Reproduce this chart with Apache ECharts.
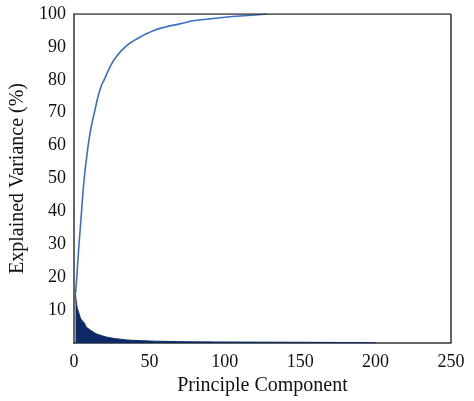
<!DOCTYPE html><html><head><meta charset="utf-8"><script src="https://cdn.jsdelivr.net/npm/echarts@6/dist/echarts.min.js"></script></head><body style="margin:0;background:#fff"><div id="c" style="width:474px;height:401px"></div><script>
var cumX=[1,2,3,4,5,6,7,8,10,12,14,16,18,20,24,28,34,40,46,53,60,70,80,90,100,110,120,128];
var cumY=[15,21,28,34,40,46,51,55,62,67,71,75,78,80,84,87,90,92,93.5,95,96,97,98,98.5,99,99.4,99.7,100];
var indX=[1,2,3,4,5,6,7,8,10,12,14,16,18,20,24,28,32,36,40,50,60,80,100,130,160,200];
var indY=[15,11,9.5,8,7,6.5,6,5,4.2,3.6,3,2.6,2.3,2,1.6,1.3,1.1,0.9,0.8,0.6,0.5,0.35,0.3,0.25,0.2,0.1];
var ch=echarts.init(document.getElementById('c'));
var f='"Liberation Serif", "Times New Roman", serif';
ch.setOption({animation:false,
grid:{left:69,right:23,top:14,bottom:55},
xAxis:{type:'value',min:0,max:250,interval:50,name:'Principle Component',nameLocation:'middle',nameGap:33,
 nameTextStyle:{fontFamily:f,fontSize:20,color:'#111'},
 axisLine:{lineStyle:{color:'#333',width:1.5}},axisTick:{show:false},splitLine:{show:false},
 axisLabel:{fontFamily:f,fontSize:18,color:'#111',margin:10}},
yAxis:{type:'value',min:0,max:100,interval:10,name:'Explained Variance (%)',nameLocation:'middle',nameGap:46,
 nameTextStyle:{fontFamily:f,fontSize:20,color:'#111'},
 axisLine:{show:true,lineStyle:{color:'#333',width:1.5}},axisTick:{show:false},splitLine:{show:false},
 axisLabel:{fontFamily:f,fontSize:18,color:'#111',margin:8,formatter:function(v){return v===0?'':v;}}},
series:[
{type:'line',data:indX.map(function(x,i){return [x,indY[i]];}),symbol:'none',smooth:true,
 lineStyle:{color:'#0d2a66',width:1},areaStyle:{color:'#0d2a66',opacity:1}},
{type:'line',data:cumX.map(function(x,i){return [x,cumY[i]];}),symbol:'none',smooth:true,
 lineStyle:{color:'#3a6fc4',width:1.6}},
{type:'line',data:[[0,100],[250,100]],symbol:'none',lineStyle:{color:'#333',width:1.5},silent:true},
{type:'line',data:[[250,0],[250,100]],symbol:'none',lineStyle:{color:'#333',width:1.5},silent:true}
]});
</script></body></html>
